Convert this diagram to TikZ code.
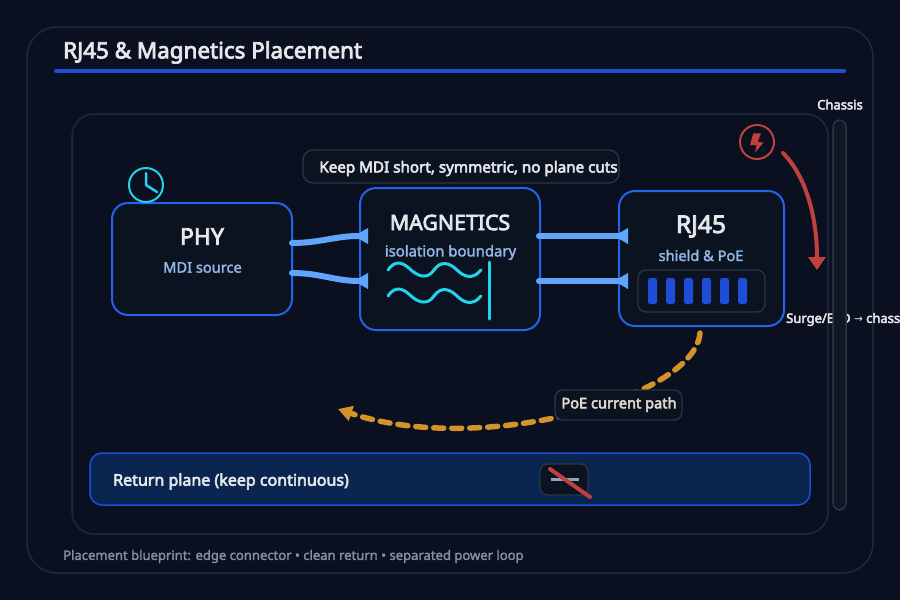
\documentclass[tikz,border=0pt]{standalone}
\usepackage{fontspec}
\setmainfont{Noto Sans}[FakeBold=2]
\newfontfamily\semif{Noto Sans}[FakeBold=3.5]
\newfontfamily\symf{DejaVu Sans}
\usetikzlibrary{arrows.meta,calc}
\definecolor{bgc}{HTML}{0A1020}
\definecolor{boxc}{HTML}{0B1220}
\definecolor{edgec}{HTML}{1E293B}
\definecolor{edgeb}{HTML}{2A3547}
\definecolor{bluec}{HTML}{1D4ED8}
\definecolor{blued}{HTML}{2563EB}
\definecolor{lightb}{HTML}{60A5FA}
\definecolor{subc}{HTML}{93B8E8}
\definecolor{cyanc}{HTML}{22D3EE}
\definecolor{redc}{HTML}{C04040}
\definecolor{amberc}{HTML}{D4922A}
\definecolor{planec}{HTML}{0A2550}
\definecolor{textc}{HTML}{E5E7EB}
\definecolor{grayc}{HTML}{94A3B8}
\definecolor{footc}{HTML}{8490A3}
\tikzset{
 x=1pt,y=-1pt,
 block/.style={draw=blued,line width=2pt,rounded corners=16pt,fill=boxc},
 pill/.style={draw=edgeb,line width=1.3pt,fill=boxc},
 head/.style={text=textc,font=\semif\fontsize{21.3}{24}\selectfont,inner sep=0pt},
 subh/.style={text=subc,font=\fontsize{14.6}{16}\selectfont,inner sep=0pt},
 lab/.style={text=textc,font=\semif\fontsize{15.2}{16}\selectfont,inner sep=0pt},
 wire/.style={draw=lightb,line width=6pt,line cap=round,-{Triangle[reversed,length=14pt,width=15pt]}},
 wave/.style={draw=cyanc,line width=3pt,line cap=round},
}
\begin{document}
\begin{tikzpicture}
\useasboundingbox (0,0) rectangle (900,600);
\clip (0,0) rectangle (900,600);
\fill[bgc] (0,0) rectangle (900,600);
\draw[edgec,line width=1.5pt,rounded corners=30pt] (27,27) rectangle (873,573);
\node[anchor=west,text=textc,font=\semif\fontsize{22.4}{24}\selectfont,inner sep=0pt] (title) at (63,52.5) {RJ45 \& Magnetics Placement};
\draw[bluec,line width=4pt,line cap=round] (56,71) -- (844,71);
\draw[edgec,line width=1.5pt,rounded corners=22pt] (72,114) rectangle (828,534);
\node[anchor=west,text=textc,inner sep=0pt,font=\semif\fontsize{13}{14}\selectfont] (surge) at (786,319.5) {Surge/ESD {\symf\fontsize{10.5}{12}\selectfont →} chassis};
\draw[edgeb,line width=1.5pt,fill=boxc!80!edgec,rounded corners=7pt] (833,120) rectangle (846,510);
\node[text=textc,inner sep=0pt,font=\semif\fontsize{13}{14}\selectfont] (chassis) at (840,104.5) {Chassis};
% blocks
\draw[block] (112,203) rectangle (292,315);
\draw[block] (360,188) rectangle (540,330);
\draw[block] (619,191) rectangle (784,326);
\node[head,font=\semif\fontsize{23}{24}\selectfont] (phy) at (202,236.5) {PHY};
\node[subh] (phys) at (202.5,267.5) {MDI source};
\node[head] (mag) at (450,222.5) {MAGNETICS};
\node[subh,font=\fontsize{14.9}{16}\selectfont] (magsub) at (450.5,252.5) {isolation boundary};
\node[head,font=\semif\fontsize{24.5}{26}\selectfont] (rj) at (701,226.5) {RJ45};
\node[subh] (rjs) at (701,255.5) {shield \& PoE};
% keep label
\draw[pill,rounded corners=10pt] (303,150) rectangle (619,183);
\node[lab] (keep) at (468.5,168.5) {Keep MDI short, symmetric, no plane cuts};
% clock
\node[circle,draw=cyanc,line width=2pt,minimum size=34pt,inner sep=0pt] (clock) at (146,185) {};
\draw[cyanc,line width=2.5pt,line cap=round] ($(clock)+(0,-12)$) -- (clock.center) -- ($(clock)+(11,7)$);
% bolt
\node[circle,draw=redc,line width=2pt,minimum size=34pt,inner sep=0pt] (bolt) at (757,142) {};
\fill[redc] (753.3,133.3) -- (761,133.3) -- (757.7,141.7) -- (763.3,142.7) -- (755,152.7) -- (756.7,145) -- (750,145) -- cycle;
% wires
\coordinate (p1) at (292,243); \coordinate (p2) at (292,273);
\coordinate (m1) at (368,236); \coordinate (m2) at (368,281);
\coordinate (m3) at (539,236); \coordinate (m4) at (539,281);
\coordinate (r1) at (628,236); \coordinate (r2) at (628,281);
\draw[wire] (p1) .. controls (320,243) and (335,236) .. (m1);
\draw[wire] (p2) .. controls (320,273) and (335,281) .. (m2);
\draw[wire] (m3) -- (r1);
\draw[wire] (m4) -- (r2);
% transformer
\draw[wave] (388,270) .. controls (396,258) and (405,264) .. (411,270) .. controls (418,276) and (427,280) .. (434,270) .. controls (441,260) and (450,263) .. (457,270) .. controls (464,277) and (473,280) .. (481,270);
\draw[wave] (388,296) .. controls (396,284) and (405,290) .. (411,296) .. controls (418,302) and (427,306) .. (434,296) .. controls (441,286) and (450,289) .. (457,296) .. controls (464,303) and (473,306) .. (481,296);
\draw[wave] (489,262) -- (489,319);
% port
\draw[pill,rounded corners=8pt] (638,270) rectangle (765,312);
\foreach \x in {648,666,684,702,720,738}
  \fill[bluec,rounded corners=2.5pt] (\x,278) rectangle (\x+9,304);
% red arrow
\coordinate (s1) at (783,153); \coordinate (s2) at (817,270);
\draw[redc,line width=4pt,line cap=round,-{Triangle[length=13pt,width=17pt]}] (s1) .. controls (805,175) and (817,215) .. (s2);
% poe
\coordinate (e1) at (700,333); \coordinate (e2) at (338,409);
\draw[amberc,line width=5.5pt,line cap=round,dash pattern=on 10pt off 8pt,-{Triangle[length=14pt,width=15pt]}] (e1) .. controls (695,398) and (480,457) .. (e2);
\draw[pill,rounded corners=8pt] (555,390) rectangle (682,420);
\node[lab,font=\semif\fontsize{14.6}{16}\selectfont,text=textc!85!amberc] (poe) at (619,404.5) {PoE current path};
% plane
\draw[draw=bluec,line width=1.5pt,fill=planec,rounded corners=12pt] (90,453) rectangle (810,505);
\node[anchor=west,text=textc,inner sep=0pt,font=\semif\fontsize{16}{18}\selectfont] (ret) at (113,481.5) {Return plane (keep continuous)};
\draw[pill,rounded corners=8pt] (540,464) rectangle (588,495);
\draw[grayc,line width=3pt] (551,479) -- (579,479);
\draw[redc,line width=4pt,line cap=round] (550,469) -- (590,497);
\node[anchor=west,text=footc,inner sep=0pt,font=\fontsize{13.05}{15}\selectfont] (foot) at (63,556.5) {Placement blueprint: edge connector • clean return • separated power loop};
\end{tikzpicture}
\end{document}
